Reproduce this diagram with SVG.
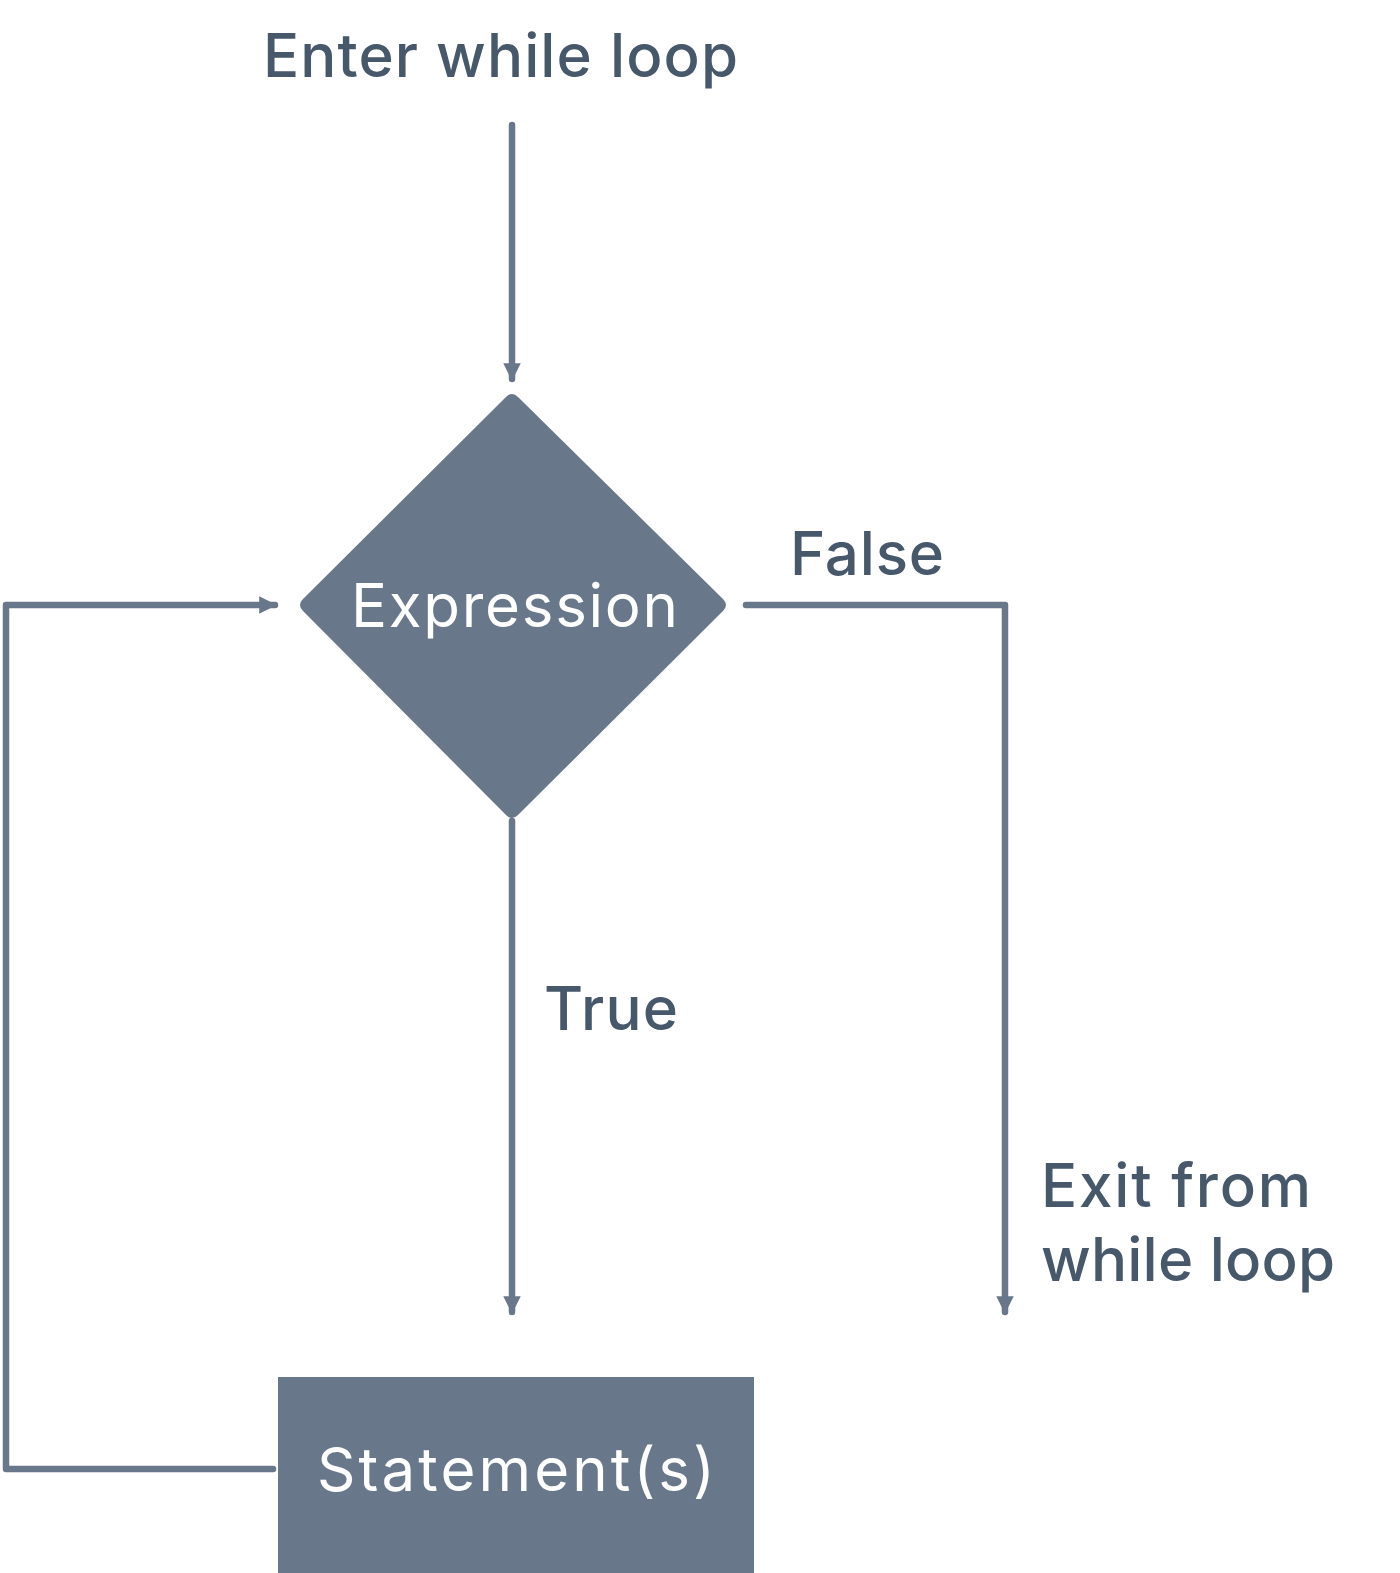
<svg xmlns="http://www.w3.org/2000/svg" width="1400" height="1573" viewBox="0 0 1400 1573">
<defs>
<marker id="arr" viewBox="0 0 10 10" refX="9" refY="5" markerWidth="2.7" markerHeight="2.7" orient="auto" markerUnits="strokeWidth">
<path d="M0,0 L10,5 L0,10 Z" fill="#687789"/>
</marker>
<style>
.lbl{font-family:Inter,"Noto Sans",sans-serif;font-size:60px;fill:#46586a;font-weight:500}
.in{font-family:Inter,"Noto Sans",sans-serif;font-size:60px;fill:#ffffff;font-weight:400}
.ln{fill:none;stroke:#687789;stroke-width:6.5;stroke-linecap:round;stroke-linejoin:round}
.shape{fill:#687789}
</style>
</defs>
<rect width="1400" height="1573" fill="#ffffff"/>
<g id="connectors">
<path class="ln" d="M512,125 L512,379" marker-end="url(#arr)"/>
<path class="ln" d="M273,1469 L6,1469 L6,605 L275,605" marker-end="url(#arr)"/>
<path class="ln" d="M746,605 L1005,605 L1005,1312" marker-end="url(#arr)"/>
<path class="ln" d="M512,821 L512,1312" marker-end="url(#arr)"/>
</g>
<g id="start">
<text class="lbl" x="263" y="77" textLength="475" lengthAdjust="spacing">Enter while loop</text>
</g>
<g id="expression">
<path class="shape" d="M506,397 Q512,391 518,397 L723,599 Q729,605 723,611 L518,815 Q512,821 506,815 L303,611 Q297,605 303,599 Z"/>
<text class="in" x="351" y="627" textLength="327" lengthAdjust="spacing">Expression</text>
</g>
<g id="false-label">
<text class="lbl" x="790" y="575" textLength="154" lengthAdjust="spacing">False</text>
</g>
<g id="true-label">
<text class="lbl" x="544" y="1030" textLength="134" lengthAdjust="spacing">True</text>
</g>
<g id="exit">
<text class="lbl" x="1041" y="1207" textLength="270" lengthAdjust="spacing">Exit from</text>
<text class="lbl" x="1041" y="1281" textLength="294" lengthAdjust="spacing">while loop</text>
</g>
<g id="statements">
<rect class="shape" x="278" y="1377" width="476" height="196"/>
<text class="in" x="317" y="1491" textLength="398" lengthAdjust="spacing">Statement(s)</text>
</g>
</svg>
